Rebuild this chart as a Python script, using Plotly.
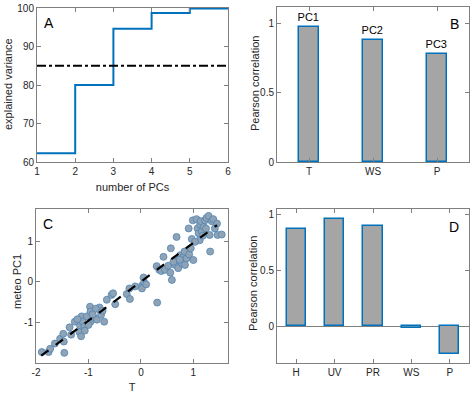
import plotly.graph_objects as go

# ---------------- data ----------------
n_pcs = [1, 2, 3, 4, 5, 6]
explained = [62.3, 80.0, 94.6, 98.7, 99.9, 99.9]
threshold = 85

b_cats = ["T", "WS", "P"]
b_vals = [0.978, 0.882, 0.78]
b_labels = ["PC1", "PC2", "PC3"]

c_T = [-1.89, -1.76, -1.73, -1.64, -1.54, -1.48, -1.47, -1.46, -1.36, -1.33,
       -1.26, -1.16, -1.17, -1.14, -1.13, -1.11, -1.08, -1.07, -1.03, -0.97,
       -0.96, -0.96, -1.00, -0.89, -0.84, -0.78, -0.76, -0.79, -0.73, -0.70,
       -0.65, -0.56, -0.49, -0.53, -0.27, -0.21, -0.22, -0.11, 0.02, 0.06,
       0.05, 0.02, 0.10, 0.30, 0.31, 0.35, 0.39, 0.43, 0.46, 0.52,
       0.56, 0.57, 0.59, 0.65, 0.68, 0.68, 0.71, 0.75, 0.78, 0.81,
       0.83, 0.84, 0.87, 0.91, 0.92, 0.95, 0.97, 0.99, 1.00, 1.06,
       1.08, 1.10, 1.12, 1.13, 1.14, 1.16, 1.18, 1.20, 1.22, 1.25,
       1.29, 1.31, 1.32, 1.35, 1.38, 1.41, 1.45, 1.46, 1.54, 1.24,
       1.03, -1.21, -0.92, -0.86, 0.62, 0.74]
c_PC1 = [-1.73, -1.73, -1.65, -1.52, -1.40, -1.28, -1.47, -1.75, -1.12, -1.30,
         -0.98, -1.08, -1.24, -1.34, -0.85, -0.98, -1.10, -1.20, -0.85, -0.61,
         -0.73, -0.98, -1.06, -0.89, -0.93, -0.69, -0.81, -0.63, -0.71, -0.98,
         -0.44, -0.32, -0.55, -0.28, -0.30, -0.42, -0.16, -0.11, -0.09, -0.01,
         0.11, -0.16, -0.06, 0.39, -0.51, 0.30, 0.27, 0.62, 0.30, 0.40,
         0.23, 0.83, 0.05, 0.42, 1.11, 0.54, 0.34, 0.66, 0.46, 0.62,
         0.75, 0.42, 0.58, 1.32, 0.68, 0.83, 1.06, 1.52, 0.54, 1.55,
         1.32, 1.20, 1.03, 1.42, 1.50, 1.25, 1.14, 1.36, 1.52, 1.58,
         1.63, 1.16, 0.75, 1.50, 1.55, 1.32, 1.44, 1.16, 1.17, 1.32,
         0.99, -0.92, -0.80, -0.66, 0.50, 0.55]
fit_x = [-1.9, 1.45]
fit_y = [-1.82, 1.40]

d_cats = ["H", "UV", "PR", "WS", "P"]
d_vals = [0.875, 0.964, 0.899, -0.015, -0.25]

# ---------------- styling ----------------
BLUE = "#0072BD"
BAR_FILL = "#A5A5A5"
FONT = "Liberation Sans, Arial, sans-serif"
TXT = "#262626"
AX = "#7f7f7f"

fig = go.Figure()

# Panel A
fig.add_trace(go.Scatter(x=n_pcs, y=explained, mode="lines", line_shape="hv",
                         line=dict(color=BLUE, width=2), xaxis="x", yaxis="y",
                         showlegend=False))
fig.add_trace(go.Scatter(x=[n_pcs[0], n_pcs[-1]], y=[threshold, threshold], mode="lines",
                         line=dict(color="black", width=2, dash="dashdot"),
                         xaxis="x", yaxis="y", showlegend=False))

# Panel B
fig.add_trace(go.Bar(x=[1, 2, 3], y=b_vals, width=0.3, marker=dict(color=BAR_FILL,
                     line=dict(color=BLUE, width=1.5)),
                     text=b_labels, textposition="outside", cliponaxis=False,
                     constraintext="none",
                     textfont=dict(family=FONT, size=11, color="black"),
                     xaxis="x2", yaxis="y2", showlegend=False))

# Panel C
fig.add_trace(go.Scatter(x=c_T, y=c_PC1, mode="markers",
                         marker=dict(size=7, color="#8FA3B5",
                                     line=dict(color="#4F85B5", width=0.8)),
                         xaxis="x3", yaxis="y3", showlegend=False))
fig.add_trace(go.Scatter(x=fit_x, y=fit_y, mode="lines",
                         line=dict(color="black", width=2.2, dash="dash"),
                         xaxis="x3", yaxis="y3", showlegend=False))

# Panel D
fig.add_trace(go.Bar(x=[1, 2, 3, 4, 5], y=d_vals, width=0.5, marker=dict(color=BAR_FILL,
                     line=dict(color=BLUE, width=1.5)),
                     xaxis="x4", yaxis="y4", showlegend=False))

W, H = 474, 395
def dx(a, b):
    return [a / W, b / W]
def dy(top, bottom):
    return [1 - bottom / H, 1 - top / H]

common = dict(showline=True, linecolor=AX, linewidth=1, mirror="ticks",
              ticks="inside", ticklen=4, tickcolor=AX, showgrid=False,
              zeroline=False, automargin=False,
              tickfont=dict(family=FONT, size=10, color=TXT))

fig.update_layout(
    width=W, height=H, margin=dict(l=0, r=0, t=0, b=0),
    paper_bgcolor="white", plot_bgcolor="white",
    font=dict(family=FONT, size=11, color=TXT),
    bargap=0,
    xaxis=dict(domain=dx(37, 228), anchor="y", range=[1, 6], tickvals=n_pcs,
               title=dict(text="number of PCs", font=dict(size=11), standoff=7), **common),
    yaxis=dict(domain=dy(8, 162), anchor="x", range=[60, 100], tickvals=[60, 70, 80, 90, 100],
               **common),
    xaxis2=dict(domain=dx(277, 469), anchor="y2", range=[0.5, 3.5], tickvals=[1, 2, 3],
                ticktext=b_cats, **common),
    yaxis2=dict(domain=dy(7, 162), anchor="x2", range=[0, 1.123], tickvals=[0, 0.5, 1],
                ticktext=["0", "0.5", "1"], **common),
    xaxis3=dict(domain=dx(36, 228), anchor="y3", range=[-2, 1.66], tickvals=[-2, -1, 0, 1],
                ticktext=["-2", "-1", "0", "1"],
                title=dict(text="T", font=dict(size=11), standoff=6), **common),
    yaxis3=dict(domain=dy(209, 363), anchor="x3", range=[-2, 1.8], tickvals=[-1, 0, 1],
                ticktext=["-1", "0", "1"], **common),
    xaxis4=dict(domain=dx(277, 469), anchor="y4", range=[0.5, 5.5], tickvals=[1, 2, 3, 4, 5],
                ticktext=d_cats, **common),
    yaxis4=dict(domain=dy(209, 363), anchor="x4", range=[-0.33, 1.05], tickvals=[0, 0.5, 1],
                ticktext=["0", "0.5", "1"],
                **{**common, "zeroline": True}, zerolinecolor=AX, zerolinewidth=1),
)

# y-axis titles (placed in pixel positions of the reference)
for txt, px, py in [("explained variance", 8, 84), ("Pearson correlation", 255, 84),
                    ("meteo PC1", 17, 282), ("Pearson correlation", 253, 284)]:
    fig.add_annotation(text=txt, xref="paper", yref="paper", x=px / W, y=1 - py / H,
                       xanchor="center", yanchor="middle", textangle=-90, showarrow=False,
                       font=dict(family=FONT, size=11, color=TXT))

for txt, ax, x, y in [("A", "", 0.063, 0.903), ("B", "2", 0.927, 0.89),
                      ("C", "3", 0.0625, 0.903), ("D", "4", 0.922, 0.883)]:
    fig.add_annotation(text=txt, xref=f"x{ax} domain", yref=f"y{ax} domain",
                       x=x, y=y, xanchor="center", yanchor="middle", showarrow=False,
                       font=dict(family=FONT, size=14, color="black"))

fig.write_html("out.html", config={"displayModeBar": False},
               post_script="document.body.style.margin='0';")
